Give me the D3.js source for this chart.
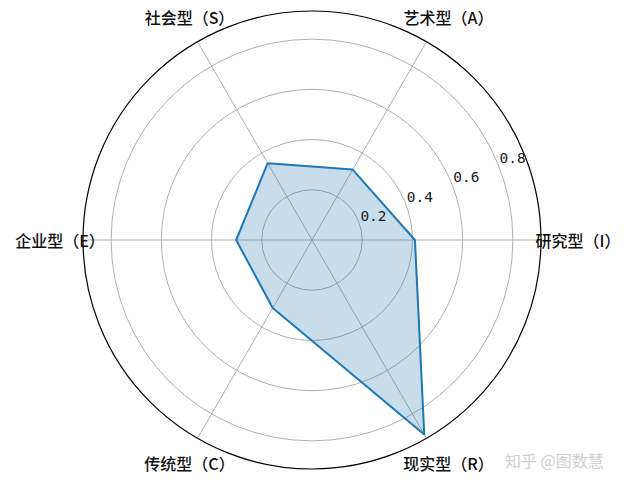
<!DOCTYPE html>
<html>
<head>
<meta charset="utf-8">
<script src="https://cdn.jsdelivr.net/npm/d3@7"></script>
<style>
  body { margin: 0; background: #fff; }
  svg { display: block; }
</style>
</head>
<body>
<div id="chart"></div>
<script>
// Holland types, counter-clockwise from the east
let categories = ["研究型（I）", "艺术型（A）", "社会型（S）", "企业型（E）", "传统型（C）", "现实型（R）"];
let values = [0.41, 0.324, 0.353, 0.302, 0.313, 0.894];
let rTicks = [0.2, 0.4, 0.6, 0.8];
let rMax = 0.912;

let width = 640, height = 488;
let cx = 312, cy = 240, outerR = 229;

let svg = d3.select("#chart").append("svg")
  .attr("width", width)
  .attr("height", height);

let g = svg.append("g").attr("transform", "translate(" + cx + "," + cy + ")");

let r = d3.scaleLinear().domain([0, rMax]).range([0, outerR]);
let angle = d3.scaleLinear().domain([0, categories.length]).range([0, 2 * Math.PI]);

function px(a, rr) { return Math.cos(a) * rr; }
function py(a, rr) { return -Math.sin(a) * rr; }

// grid circles
g.selectAll("circle.grid")
  .data(rTicks)
  .enter().append("circle")
  .attr("class", "grid")
  .attr("r", d => r(d))
  .attr("fill", "none")
  .attr("stroke", "#b0b0b0")
  .attr("stroke-width", 1);

// spokes
g.selectAll("line.spoke")
  .data(categories)
  .enter().append("line")
  .attr("x1", 0).attr("y1", 0)
  .attr("x2", (d, i) => px(angle(i), outerR))
  .attr("y2", (d, i) => py(angle(i), outerR))
  .attr("stroke", "#b0b0b0")
  .attr("stroke-width", 1);

// data polygon
let pts = values.map((v, i) => [px(angle(i), r(v)), py(angle(i), r(v))]);
g.append("path")
  .attr("d", d3.line()(pts) + "Z")
  .attr("fill", "#1f77b4")
  .attr("fill-opacity", 0.25)
  .attr("stroke", "#1f77b4")
  .attr("stroke-width", 2)
  .attr("stroke-linejoin", "round");

// outer frame
g.append("circle")
  .attr("r", outerR)
  .attr("fill", "none")
  .attr("stroke", "#000")
  .attr("stroke-width", 1.2);

// radial tick labels at 22.5 degrees
let rlabelAngle = 22.5 * Math.PI / 180;
g.selectAll("text.rtick")
  .data(rTicks)
  .enter().append("text")
  .attr("x", d => px(rlabelAngle, r(d)) + 2)
  .attr("y", d => py(rlabelAngle, r(d)))
  .attr("font-family", "'DejaVu Sans Mono', 'Liberation Mono', monospace")
  .attr("font-size", 14.5)
  .attr("fill", "#222")
  .text(d => d.toFixed(1));

// category labels
g.selectAll("text.cat")
  .data(categories)
  .enter().append("text")
  .attr("x", (d, i) => px(angle(i), outerR + 30) + 7)
  .attr("y", (d, i) => py(angle(i), outerR + 29))
  .attr("text-anchor", "middle")
  .attr("dominant-baseline", "central")
  .attr("font-family", "'Noto Sans CJK SC', sans-serif")
  .attr("font-size", 16)
  .attr("font-weight", 500)
  .attr("fill", "#111")
  .text(d => d);

// watermark
svg.append("text")
  .attr("x", 505)
  .attr("y", 467)
  .attr("font-family", "'Noto Sans CJK SC', sans-serif")
  .attr("font-size", 16)
  .attr("fill", "#cfcfcf")
  .text("知乎 @图数慧");
</script>
</body>
</html>
